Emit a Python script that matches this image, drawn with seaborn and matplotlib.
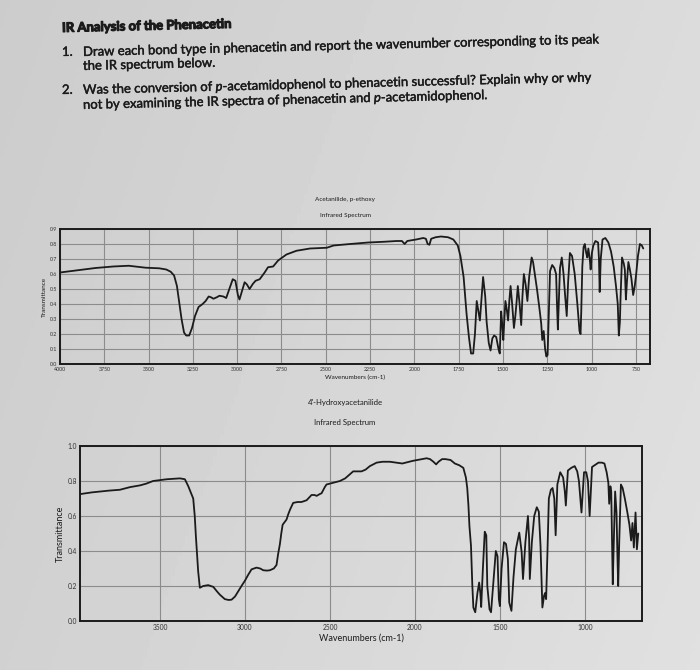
import numpy as np
import pandas as pd
import seaborn as sns
import matplotlib
matplotlib.use("Agg")
import matplotlib.pyplot as plt
import matplotlib.patheffects as pe

# Espectro 1: Acetanilide, p-ethoxy (fenacetina)
phen_wn = [4000, 3900, 3800, 3700, 3612, 3560, 3517, 3440, 3400, 3375, 3356, 3340, 3328, 3314, 3300,
           3288, 3271, 3255, 3238, 3218, 3195, 3178, 3161, 3148, 3134, 3115, 3100, 3078, 3062, 3044,
           3025, 3010, 2996, 2987, 2972, 2958, 2945, 2930, 2911, 2896, 2873, 2845, 2826, 2797, 2769,
           2722, 2665, 2589, 2494, 2456, 2362, 2260, 2170, 2100, 2070, 2055, 2040, 1990, 1950, 1935,
           1925, 1915, 1905, 1880, 1850, 1810, 1780, 1755, 1740, 1722, 1705, 1692, 1680, 1668, 1658,
           1648, 1638, 1630, 1620, 1612, 1600, 1592, 1580, 1570, 1560, 1550, 1538, 1525, 1518, 1514,
           1510, 1503, 1498, 1492, 1486, 1478, 1471, 1464, 1457, 1448, 1438, 1430, 1424, 1416, 1406,
           1397, 1390, 1382, 1372, 1362, 1352, 1338, 1330, 1318, 1308, 1295, 1284, 1278, 1270, 1262,
           1255, 1248, 1242, 1234, 1222, 1210, 1200, 1195, 1190, 1185, 1178, 1168, 1158, 1150, 1140,
           1132, 1122, 1110, 1095, 1080, 1068, 1062, 1058, 1052, 1045, 1038, 1030, 1024, 1018, 1010,
           1005, 998, 990, 978, 963, 958, 954, 948, 938, 922, 905, 890, 875, 862, 852,
           846, 840, 836, 828, 818, 812, 806, 800, 792, 782, 775, 765, 756, 748, 738,
           727, 716, 708]
phen_t = [0.61, 0.625, 0.64, 0.65, 0.655, 0.648, 0.642, 0.638, 0.63, 0.615, 0.59, 0.52, 0.42, 0.30, 0.21,
          0.19, 0.19, 0.24, 0.32, 0.38, 0.40, 0.42, 0.45, 0.445, 0.435, 0.445, 0.455, 0.45, 0.44, 0.50,
          0.565, 0.555, 0.46, 0.43, 0.49, 0.545, 0.53, 0.50, 0.535, 0.555, 0.565, 0.61, 0.645, 0.65, 0.69,
          0.73, 0.755, 0.77, 0.775, 0.79, 0.80, 0.81, 0.815, 0.82, 0.82, 0.80, 0.82, 0.83, 0.84, 0.835,
          0.80, 0.795, 0.835, 0.845, 0.85, 0.845, 0.83, 0.79, 0.72, 0.58, 0.33, 0.18, 0.07, 0.07, 0.20,
          0.42, 0.35, 0.29, 0.45, 0.58, 0.45, 0.28, 0.14, 0.09, 0.17, 0.19, 0.18, 0.10, 0.07, 0.20,
          0.35, 0.25, 0.16, 0.30, 0.42, 0.36, 0.29, 0.42, 0.52, 0.40, 0.24, 0.32, 0.40, 0.52, 0.40,
          0.26, 0.45, 0.60, 0.53, 0.42, 0.58, 0.71, 0.68, 0.58, 0.50, 0.38, 0.27, 0.16, 0.22, 0.10,
          0.05, 0.06, 0.30, 0.62, 0.66, 0.64, 0.60, 0.40, 0.23, 0.40, 0.64, 0.71, 0.60, 0.47, 0.32,
          0.55, 0.74, 0.72, 0.60, 0.40, 0.22, 0.20, 0.35, 0.65, 0.78, 0.80, 0.74, 0.71, 0.77, 0.70,
          0.63, 0.74, 0.79, 0.82, 0.81, 0.70, 0.48, 0.70, 0.83, 0.84, 0.81, 0.75, 0.65, 0.52, 0.40,
          0.19, 0.28, 0.45, 0.71, 0.67, 0.63, 0.43, 0.55, 0.68, 0.62, 0.57, 0.46, 0.52, 0.60, 0.72,
          0.80, 0.79, 0.77]

# Espectro 2: 4'-Hydroxyacetanilide
hyd_wn = [3970, 3900, 3800, 3735, 3676, 3617, 3580, 3540, 3460, 3382, 3353, 3333, 3304, 3295, 3288,
          3281, 3275, 3265, 3245, 3216, 3186, 3165, 3147, 3118, 3095, 3078, 3058, 3039, 3020, 3000,
          2980, 2961, 2932, 2910, 2892, 2870, 2853, 2830, 2814, 2805, 2794, 2786, 2778, 2755, 2745,
          2735, 2716, 2690, 2667, 2637, 2618, 2608, 2590, 2578, 2560, 2549, 2530, 2520, 2480, 2441,
          2410, 2392, 2363, 2314, 2290, 2265, 2225, 2190, 2147, 2074, 2013, 1960, 1931, 1911, 1891,
          1875, 1861, 1840, 1820, 1790, 1765, 1739, 1715, 1700, 1692, 1685, 1679, 1670, 1662, 1656,
          1645, 1632, 1622, 1615, 1610, 1600, 1589, 1580, 1574, 1561, 1552, 1540, 1524, 1514, 1506,
          1500, 1490, 1476, 1464, 1453, 1445, 1432, 1420, 1406, 1386, 1372, 1364, 1350, 1335, 1328,
          1324, 1312, 1298, 1283, 1271, 1261, 1254, 1250, 1240, 1234, 1228, 1220, 1212, 1200, 1190,
          1180, 1172, 1162, 1145, 1128, 1118, 1112, 1100, 1080, 1060, 1045, 1035, 1020, 1005, 992,
          982, 972, 958, 943, 920, 900, 885, 872, 862, 857, 850, 845, 840, 836, 830,
          822, 814, 808, 804, 798, 788, 778, 765, 750, 738, 728, 720, 712, 702, 694,
          686]
hyd_t = [0.725, 0.735, 0.745, 0.75, 0.765, 0.775, 0.785, 0.80, 0.81, 0.815, 0.81, 0.77, 0.70, 0.60, 0.48,
         0.38, 0.285, 0.19, 0.20, 0.205, 0.195, 0.17, 0.15, 0.125, 0.12, 0.122, 0.14, 0.17, 0.20, 0.23,
         0.265, 0.295, 0.305, 0.30, 0.29, 0.288, 0.29, 0.30, 0.32, 0.38, 0.44, 0.50, 0.55, 0.58, 0.61,
         0.635, 0.675, 0.68, 0.68, 0.69, 0.71, 0.72, 0.72, 0.715, 0.725, 0.73, 0.765, 0.78, 0.79, 0.80,
         0.815, 0.83, 0.855, 0.855, 0.865, 0.885, 0.905, 0.91, 0.91, 0.90, 0.915, 0.925, 0.93, 0.925, 0.91,
         0.895, 0.91, 0.925, 0.925, 0.92, 0.90, 0.89, 0.875, 0.82, 0.76, 0.66, 0.54, 0.43, 0.20, 0.077,
         0.05, 0.16, 0.22, 0.16, 0.08, 0.30, 0.51, 0.49, 0.20, 0.067, 0.05, 0.20, 0.40, 0.37, 0.125,
         0.085, 0.30, 0.45, 0.44, 0.355, 0.106, 0.058, 0.25, 0.41, 0.505, 0.394, 0.24, 0.45, 0.60, 0.47,
         0.24, 0.45, 0.60, 0.65, 0.625, 0.43, 0.20, 0.077, 0.145, 0.16, 0.125, 0.40, 0.70, 0.75, 0.76,
         0.70, 0.49, 0.78, 0.85, 0.82, 0.74, 0.66, 0.86, 0.875, 0.885, 0.855, 0.80, 0.62, 0.85, 0.85,
         0.80, 0.60, 0.88, 0.89, 0.905, 0.905, 0.90, 0.85, 0.79, 0.67, 0.77, 0.74, 0.45, 0.21, 0.45,
         0.74, 0.62, 0.35, 0.20, 0.45, 0.78, 0.76, 0.70, 0.62, 0.55, 0.46, 0.56, 0.42, 0.62, 0.41,
         0.50]

# Eixos
top_xticks = [4000, 3750, 3500, 3250, 3000, 2750, 2500, 2250, 2000, 1750, 1500, 1250, 1000, 750]
top_yticks = [0.0, 0.1, 0.2, 0.3, 0.4, 0.5, 0.6, 0.7, 0.8, 0.9]
bot_xticks = [3500, 3000, 2500, 2000, 1500, 1000]
bot_yticks = [0.0, 0.2, 0.4, 0.6, 0.8, 1.0]

sns.set_style("whitegrid")
plt.rcParams['font.family'] = ['Lato', 'DejaVu Sans']
plt.rcParams['mathtext.fontset'] = 'custom'
plt.rcParams['mathtext.it'] = 'Lato:italic'
plt.rcParams['mathtext.rm'] = 'Lato'

paper = '#d6d6d4'
ink = '#1b1b1b'
fig = plt.figure(figsize=(7, 6.7), dpi=100, facecolor=paper)

# fundo tipo papel fotografado (mais escuro a esquerda)
bg = fig.add_axes([0, 0, 1, 1], zorder=-10)
gx, gy = np.meshgrid(np.linspace(0, 1, 200), np.linspace(0, 1, 200))
bg.imshow(0.80 + 0.06 * gx + 0.02 * gy, cmap='gray', vmin=0, vmax=1, aspect='auto', extent=(0, 1, 0, 1))
bg.axis('off')


def px(x, y):
    # pixel da imagem -> fracao da figura
    return x / 700, 1 - y / 670


# tinta um pouco mais grossa, como na foto (titulo mais grosso = negrito)
thick = [pe.withStroke(linewidth=0.3, foreground=ink)]
bold = [pe.withStroke(linewidth=0.8, foreground=ink)]

# Texto do enunciado (pagina levemente girada na foto)
kw = dict(color=ink, va='center', ha='left', rotation=1.4, rotation_mode='anchor', fontsize=9.4)
fig.text(*px(62, 28), "IR Analysis of the Phenacetin", fontweight='bold', path_effects=bold, **kw)
fig.text(*px(62, 52), "1.", path_effects=thick, **kw)
fig.text(*px(83, 52), "Draw each bond type in phenacetin and report the wavenumber corresponding to its peak",
         path_effects=thick, **kw)
fig.text(*px(83, 66), "the IR spectrum below.", path_effects=thick, **kw)
fig.text(*px(62, 90), "2.", path_effects=thick, **kw)
fig.text(*px(83, 90), "Was the conversion of $\\mathit{p}$-acetamidophenol to phenacetin successful? Explain why or why",
         path_effects=thick, **kw)
fig.text(*px(83, 105), "not by examining the IR spectra of phenacetin and $\\mathit{p}$-acetamidophenol.",
         path_effects=thick, **kw)


def spectrum(rect, wn, t, xlim, ylim, xticks, yticks, fs_tick, fs_lab):
    ax = fig.add_axes(rect)
    df = pd.DataFrame({'wn': wn, 't': t})
    sns.lineplot(data=df, x='wn', y='t', ax=ax, color=ink, lw=1.3, estimator=None, sort=False)
    ax.set_facecolor('none')
    ax.set_xlim(*xlim)
    ax.set_ylim(*ylim)
    ax.set_xticks(xticks)
    ax.set_yticks(yticks)
    ax.set_yticklabels([f"{v:.1f}" for v in yticks])
    ax.grid(True, color='#8c8c8c', lw=0.8)
    for s in ax.spines.values():
        s.set_color(ink)
        s.set_linewidth(1.4)
    ax.tick_params(length=0, pad=2, labelsize=fs_tick, colors='#333333')
    ax.set_xlabel("Wavenumbers (cm-1)", fontsize=fs_lab, color=ink, labelpad=2)
    ax.set_ylabel("Transmittance", fontsize=fs_lab, color=ink, labelpad=2)
    return ax


small = dict(color=ink, ha='center', va='center')

ax1 = spectrum([60 / 700, 1 - 364 / 670, 590 / 700, 135 / 670], phen_wn, phen_t,
               (4000, 670), (0, 0.9), top_xticks, top_yticks, 3.8, 4.6)
fig.text(*px(345, 199), "Acetanilide, p-ethoxy", fontsize=4.6, **small)
fig.text(*px(345, 216), "Infrared Spectrum", fontsize=4.6, **small)

ax2 = spectrum([80 / 700, 1 - 621 / 670, 562 / 700, 175 / 670], hyd_wn, hyd_t,
               (3970, 664), (0, 1.0), bot_xticks, bot_yticks, 4.8, 6.5)
fig.text(*px(345, 402), "4'-Hydroxyacetanilide", fontsize=5.6, **small)
fig.text(*px(345, 423), "Infrared Spectrum", fontsize=5.6, **small)

fig.savefig("out.png", dpi=100, facecolor=paper)
